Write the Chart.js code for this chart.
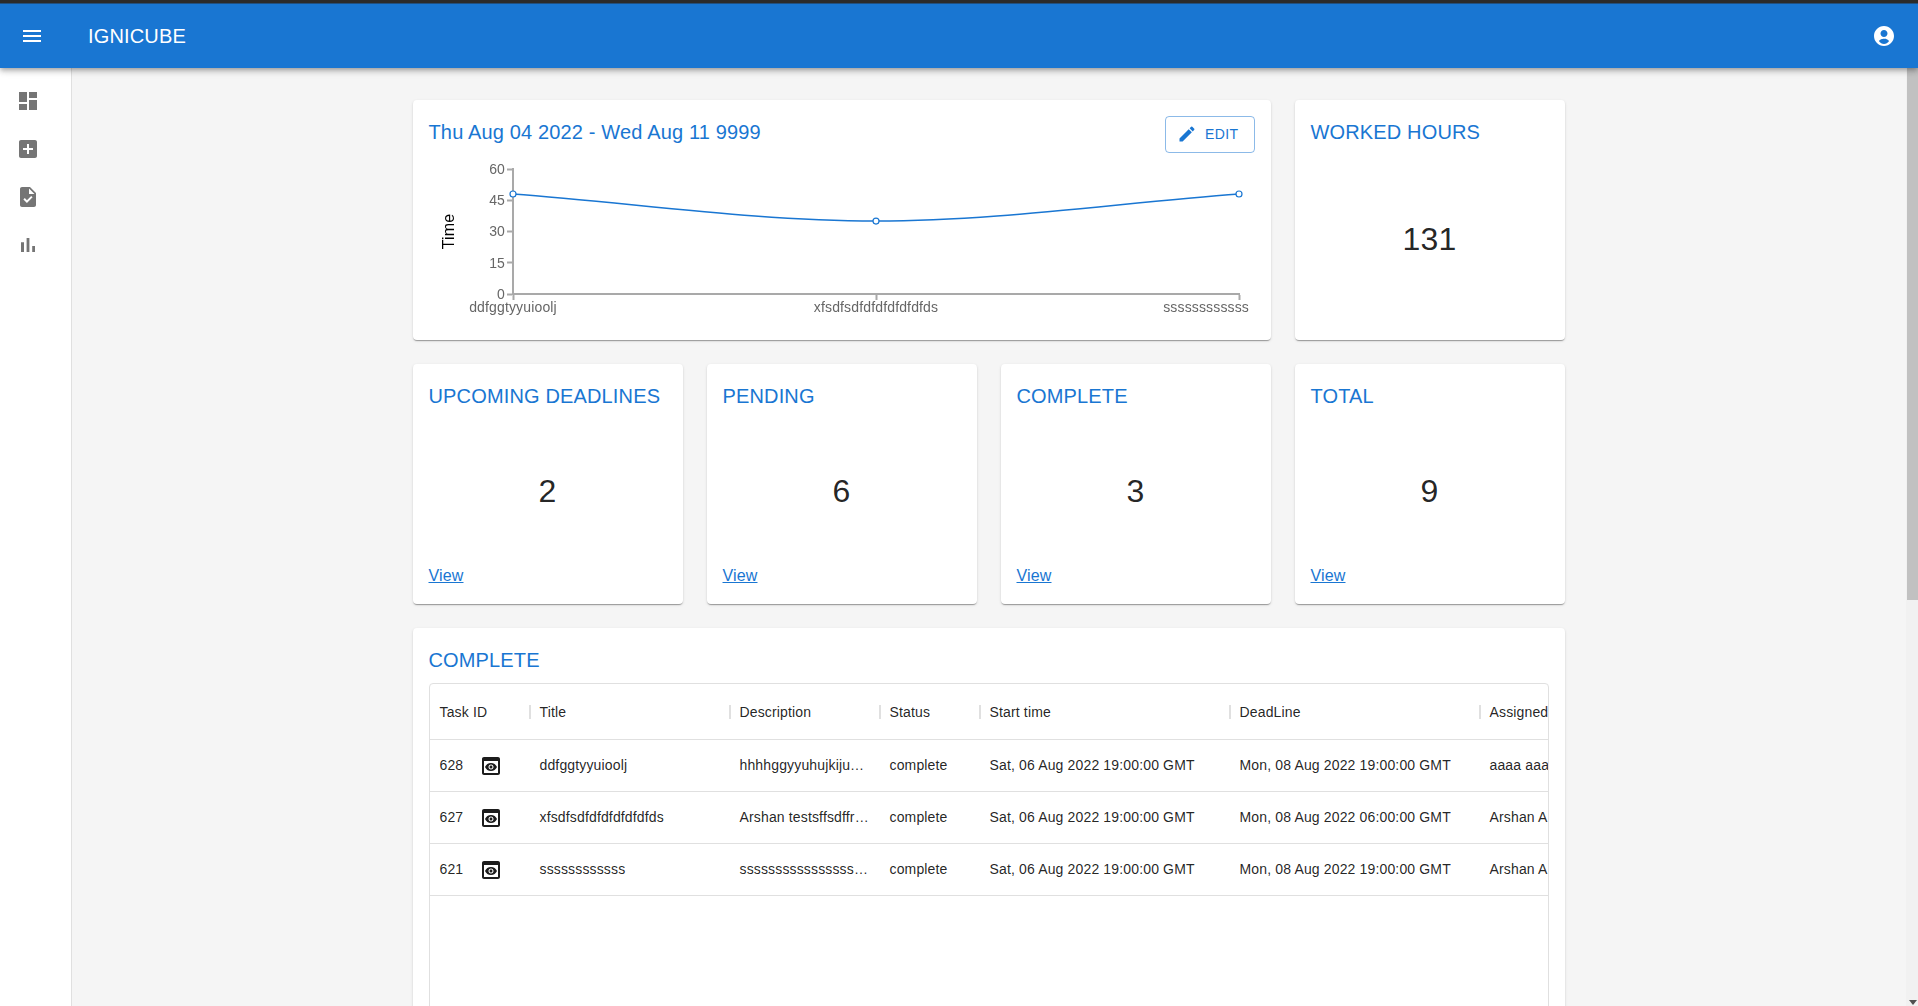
<!DOCTYPE html>
<html>
<head>
<meta charset="utf-8">
<title>IGNICUBE</title>
<script src="https://cdn.jsdelivr.net/npm/chart.js@4"></script>
<style>
  html, body { margin: 0; width: 1918px; height: 1006px; overflow: hidden; background: #f5f5f5; }
  body { position: relative; font-family: "Liberation Sans", Arial, sans-serif; color: rgba(0,0,0,.87); letter-spacing: .15px; }
  .topline { position: absolute; left: 0; top: 0; width: 1918px; height: 4px; background: linear-gradient(#2b2b2b 75%, #22507f 75%); z-index: 5; }
  header { position: absolute; left: 0; top: 3px; width: 1918px; height: 65px; background: #1976d2; color: #fff; z-index: 4;
    box-shadow: 0 2px 4px -1px rgba(0,0,0,.2), 0 4px 5px 0 rgba(0,0,0,.14), 0 1px 10px 0 rgba(0,0,0,.12); }
  header .brand { position: absolute; left: 88px; top: 17px; font-size: 20px; line-height: 32px; }
  aside { position: absolute; left: 0; top: 68px; width: 71px; height: 938px; background: #fff; border-right: 1px solid #e0e0e0; }
  svg.icon { position: absolute; width: 24px; height: 24px; fill: #757575; }
  header svg.icon { fill: #fff; }
  .card { position: absolute; background: #fff; border-radius: 4px;
    box-shadow: 0 2px 1px -1px rgba(0,0,0,.2), 0 1px 1px 0 rgba(0,0,0,.14), 0 1px 3px 0 rgba(0,0,0,.12); }
  .card h6 { position: absolute; left: 15.5px; top: 16px; margin: 0; font-size: 20px; font-weight: 400; line-height: 32px; color: #1976d2; white-space: nowrap; }
  .card .num { position: absolute; left: -0.5px; width: 100%; text-align: center; font-size: 32px; line-height: 40px; }
  .card a { position: absolute; left: 15.5px; top: 200px; font-size: 16px; line-height: 24px; color: #1976d2; text-decoration: underline; }
  .edit { position: absolute; left: 752px; top: 16px; width: 88px; height: 35px; border: 1px solid rgba(25,118,210,.5); border-radius: 4px; color: #1976d2; font-size: 14px; letter-spacing: .4px; line-height: 35px; }
  .edit span { position: absolute; left: 39px; top: 0; }
  .edit svg { position: absolute; left: 11px; top: 7px; width: 20px; height: 20px; fill: #1976d2; }
  #chartBox { position: absolute; left: 16px; top: 50px; }
  .grid { position: absolute; left: 16px; top: 55px; width: 1118px; height: 500px; border: 1px solid #e0e0e0; border-radius: 4px; overflow: hidden; font-size: 14px; }
  .row { position: absolute; left: 0; width: 1118px; border-bottom: 1px solid #e0e0e0; box-sizing: border-box; }
  .cell { position: absolute; top: 0; height: 100%; box-sizing: border-box; padding: 0 9.5px; white-space: nowrap; overflow: hidden; }
  .sep { position: absolute; top: 21px; width: 2px; height: 14px; background: #e0e0e0; }
  .scroll { position: absolute; left: 1906px; top: 0; width: 12px; height: 1006px; background: #f1f1f1; }
  .thumb { position: absolute; left: 1px; top: 68px; width: 11px; height: 532px; background: #c1c1c1; }
  .arrow { position: absolute; left: 3px; bottom: 1px; width: 0; height: 0; border-left: 4px solid transparent; border-right: 4px solid transparent; border-top: 5px solid #505050; }
</style>
</head>
<body>
<div class="topline"></div>
<div class="scroll"><div class="thumb"></div><div class="arrow"></div></div>
<header>
  <svg class="icon" style="left:20px;top:21px" viewBox="0 0 24 24"><path d="M3 18h18v-2H3v2zm0-5h18v-2H3v2zm0-7v2h18V6H3z"/></svg>
  <div class="brand">IGNICUBE</div>
  <svg class="icon" style="left:1872px;top:21px" viewBox="0 0 24 24"><path d="M12 2C6.48 2 2 6.48 2 12s4.48 10 10 10 10-4.48 10-10S17.52 2 12 2zm0 4c1.93 0 3.5 1.57 3.5 3.5S13.93 13 12 13s-3.5-1.57-3.5-3.5S10.07 6 12 6zm0 14c-2.03 0-3.81-1.06-4.97-2.68.02-1.66 3.32-2.57 4.97-2.57s4.95.91 4.97 2.57C15.81 18.94 14.03 20 12 20z"/></svg>
</header>
<aside>
  <svg class="icon" style="left:16px;top:21px" viewBox="0 0 24 24"><path d="M3 13h8V3H3v10zm0 8h8v-6H3v6zm10 0h8V11h-8v10zm0-18v6h8V3h-8z"/></svg>
  <svg class="icon" style="left:16px;top:69px" viewBox="0 0 24 24"><path d="M19 3H5c-1.11 0-2 .9-2 2v14c0 1.1.89 2 2 2h14c1.1 0 2-.9 2-2V5c0-1.1-.9-2-2-2zm-2 10h-4v4h-2v-4H7v-2h4V7h2v4h4v2z"/></svg>
  <svg class="icon" style="left:16px;top:117px" viewBox="0 0 24 24"><path d="M14 2H6c-1.1 0-1.99.9-1.99 2L4 20c0 1.1.89 2 1.99 2H18c1.1 0 2-.9 2-2V8l-6-6zm-3.06 16L7.4 14.46l1.41-1.41 2.12 2.12 4.24-4.24 1.41 1.41L10.94 18zM13 9V3.5L18.5 9H13z"/></svg>
  <svg class="icon" style="left:16px;top:165px" viewBox="0 0 24 24"><path d="M5 9.2h3V19H5zM10.6 5h2.8v14h-2.8zm5.6 8H19v6h-2.8z"/></svg>
</aside>

<div class="card" style="left:413px;top:100px;width:858px;height:240px">
  <h6>Thu Aug 04 2022 - Wed Aug 11 9999</h6>
  <div class="edit"><svg viewBox="0 0 24 24"><path d="M3 17.25V21h3.75L17.81 9.94l-3.75-3.75L3 17.25zM20.71 7.04c.39-.39.39-1.02 0-1.41l-2.34-2.34a.9959.9959 0 00-1.41 0l-1.83 1.83 3.75 3.75 1.83-1.83z"/></svg><span>EDIT</span></div>
  <div id="chartBox"><canvas id="hoursChart" width="820" height="190" style="width:820px;height:190px;display:block"></canvas></div>
</div>
<div id="cards"></div>
<div class="card" style="left:413px;top:628px;width:1152px;height:600px">
  <h6>COMPLETE</h6>
  <div class="grid" id="grid"></div>
</div>

<script>
// Chart data
const taskTitles = ['ddfggtyyuioolj', 'xfsdfsdfdfdfdfdfdfds', 'ssssssssssss'];
const workedTime = [48, 35, 48];
const timeTicks = [0, 15, 30, 45, 60];

// Stat cards
const statNames = ['WORKED HOURS', 'UPCOMING DEADLINES', 'PENDING', 'COMPLETE', 'TOTAL'];
const statValues = [131, 2, 6, 3, 9];
const statLefts = [1295, 413, 707, 1001, 1295];

// Table
const columnNames = ['Task ID', 'Title', 'Description', 'Status', 'Start time', 'DeadLine', 'Assigned'];
const columnWidths = [100, 200, 150, 100, 250, 250, 69];
const taskIds = ['628', '627', '621'];
const taskDescriptions = ['hhhhggyyuhujkiju…', 'Arshan testsffsdffr…', 'ssssssssssssssss…'];
const taskStatus = ['complete', 'complete', 'complete'];
const taskStarts = ['Sat, 06 Aug 2022 19:00:00 GMT', 'Sat, 06 Aug 2022 19:00:00 GMT', 'Sat, 06 Aug 2022 19:00:00 GMT'];
const taskDeadlines = ['Mon, 08 Aug 2022 19:00:00 GMT', 'Mon, 08 Aug 2022 06:00:00 GMT', 'Mon, 08 Aug 2022 19:00:00 GMT'];
const taskAssigned = ['aaaa aaa', 'Arshan A', 'Arshan A'];

const previewPath = 'M19 3H5c-1.11 0-2 .9-2 2v14c0 1.1.89 2 2 2h14c1.1 0 2-.9 2-2V5c0-1.1-.89-2-2-2zm0 16H5V7h14v12zm-5.5-6c0 .83-.67 1.5-1.5 1.5s-1.5-.67-1.5-1.5.67-1.5 1.5-1.5 1.5.67 1.5 1.5zM12 9c-2.73 0-5.06 1.66-6 4 .94 2.34 3.27 4 6 4s5.06-1.66 6-4c-.94-2.34-3.27-4-6-4zm0 6.5c-1.38 0-2.5-1.12-2.5-2.5s1.12-2.5 2.5-2.5 2.5 1.12 2.5 2.5-1.12 2.5-2.5 2.5z';

// Stat cards
const cardsBox = document.getElementById('cards');
statNames.forEach((name, i) => {
    const card = document.createElement('div');
    card.className = 'card';
    const first = i === 0;
    card.style.cssText = `left:${statLefts[i]}px;top:${first ? 100 : 364}px;width:270px;height:240px`;
    card.innerHTML = `<h6>${name}</h6><div class="num" style="top:${first ? 119 : 107}px">${statValues[i]}</div>` +
        (first ? '' : '<a href="#">View</a>');
    cardsBox.appendChild(card);
});

// Table
const grid = document.getElementById('grid');
function addRow(top, height, values, isHead) {
    const row = document.createElement('div');
    row.className = 'row';
    row.style.top = top + 'px';
    row.style.height = height + 'px';
    let left = 0;
    values.forEach((value, c) => {
        const cell = document.createElement('div');
        cell.className = 'cell';
        cell.style.left = left + 'px';
        cell.style.width = columnWidths[c] + 'px';
        cell.style.lineHeight = (isHead ? height + 1 : height - 1) + 'px';
        cell.textContent = value;
        row.appendChild(cell);
        left += columnWidths[c];
        if (isHead && c < values.length - 1) {
            const sep = document.createElement('div');
            sep.className = 'sep';
            sep.style.left = (left - 1) + 'px';
            row.appendChild(sep);
        }
        if (!isHead && c === 0) {
            const eye = document.createElementNS('http://www.w3.org/2000/svg', 'svg');
            eye.setAttribute('viewBox', '0 0 24 24');
            eye.setAttribute('class', 'icon');
            eye.style.cssText = 'left:49px;top:14px;fill:#1c1c1c';
            eye.innerHTML = `<path d="${previewPath}"/>`;
            row.appendChild(eye);
        }
    });
    grid.appendChild(row);
}
addRow(0, 56, columnNames, true);
taskIds.forEach((id, i) => {
    addRow(56 + i * 52, 52, [id, taskTitles[i], taskDescriptions[i], taskStatus[i], taskStarts[i], taskDeadlines[i], taskAssigned[i]], false);
});

// Recharts-like behaviour: keep the last x label inside the canvas, nudge y labels onto their ticks
const axisLabelFix = {
    id: 'axisLabelFix',
    beforeDraw(chart) {
        const ctx = chart.ctx;
        ctx.letterSpacing = '0.15px';
        const items = chart.scales.x.getLabelItems();
        const last = items[items.length - 1];
        if (last.shifted) return;
        ctx.save();
        ctx.font = last.font.string;
        const half = ctx.measureText(last.label).width / 2;
        ctx.restore();
        const over = last.options.translation[0] + half - chart.width;
        if (over > 0) last.options.translation[0] -= over;
        last.shifted = true;
        chart.scales.y.getLabelItems().forEach(item => { item.options.translation[1] += 1; });
    }
};

const axisFont = { family: '"Liberation Sans", Arial, sans-serif', size: 14 };
const axisLine = { color: '#a9a9a9', width: 2 };
const axisTicks = { drawOnChartArea: false, tickLength: 6, tickColor: '#a9a9a9', tickWidth: 2 };

new Chart(document.getElementById('hoursChart'), {
    type: 'line',
    data: {
        labels: taskTitles,
        datasets: [{
            data: workedTime,
            borderColor: '#1976d2',
            borderWidth: 1.5,
            backgroundColor: '#fff',
            pointBackgroundColor: '#fff',
            pointBorderColor: '#1976d2',
            pointBorderWidth: 1.2,
            pointRadius: 3,
            cubicInterpolationMode: 'monotone',
            fill: false,
            clip: false
        }]
    },
    plugins: [axisLabelFix],
    options: {
        responsive: false,
        animation: false,
        layout: { padding: { left: 0, right: 10, top: 19, bottom: 0 } },
        plugins: { legend: { display: false }, tooltip: { enabled: false } },
        scales: {
            x: {
                offset: false,
                afterFit(scale) { scale.height = 46; scale.paddingLeft = 0; scale.paddingRight = 0; },
                border: axisLine,
                grid: axisTicks,
                ticks: { color: '#666', font: axisFont, padding: 0, maxRotation: 0, autoSkip: false }
            },
            y: {
                min: timeTicks[0],
                max: timeTicks[timeTicks.length - 1],
                afterFit(scale) { scale.width = 84; },
                afterBuildTicks(scale) { scale.ticks = timeTicks.map(v => ({ value: v })); },
                border: axisLine,
                grid: axisTicks,
                ticks: { color: '#666', font: axisFont, padding: 2 },
                title: { display: true, text: 'Time', color: '#000', font: { family: axisFont.family, size: 16 }, padding: { top: 10.5, bottom: 0 } }
            }
        }
    }
});
</script>
</body>
</html>
